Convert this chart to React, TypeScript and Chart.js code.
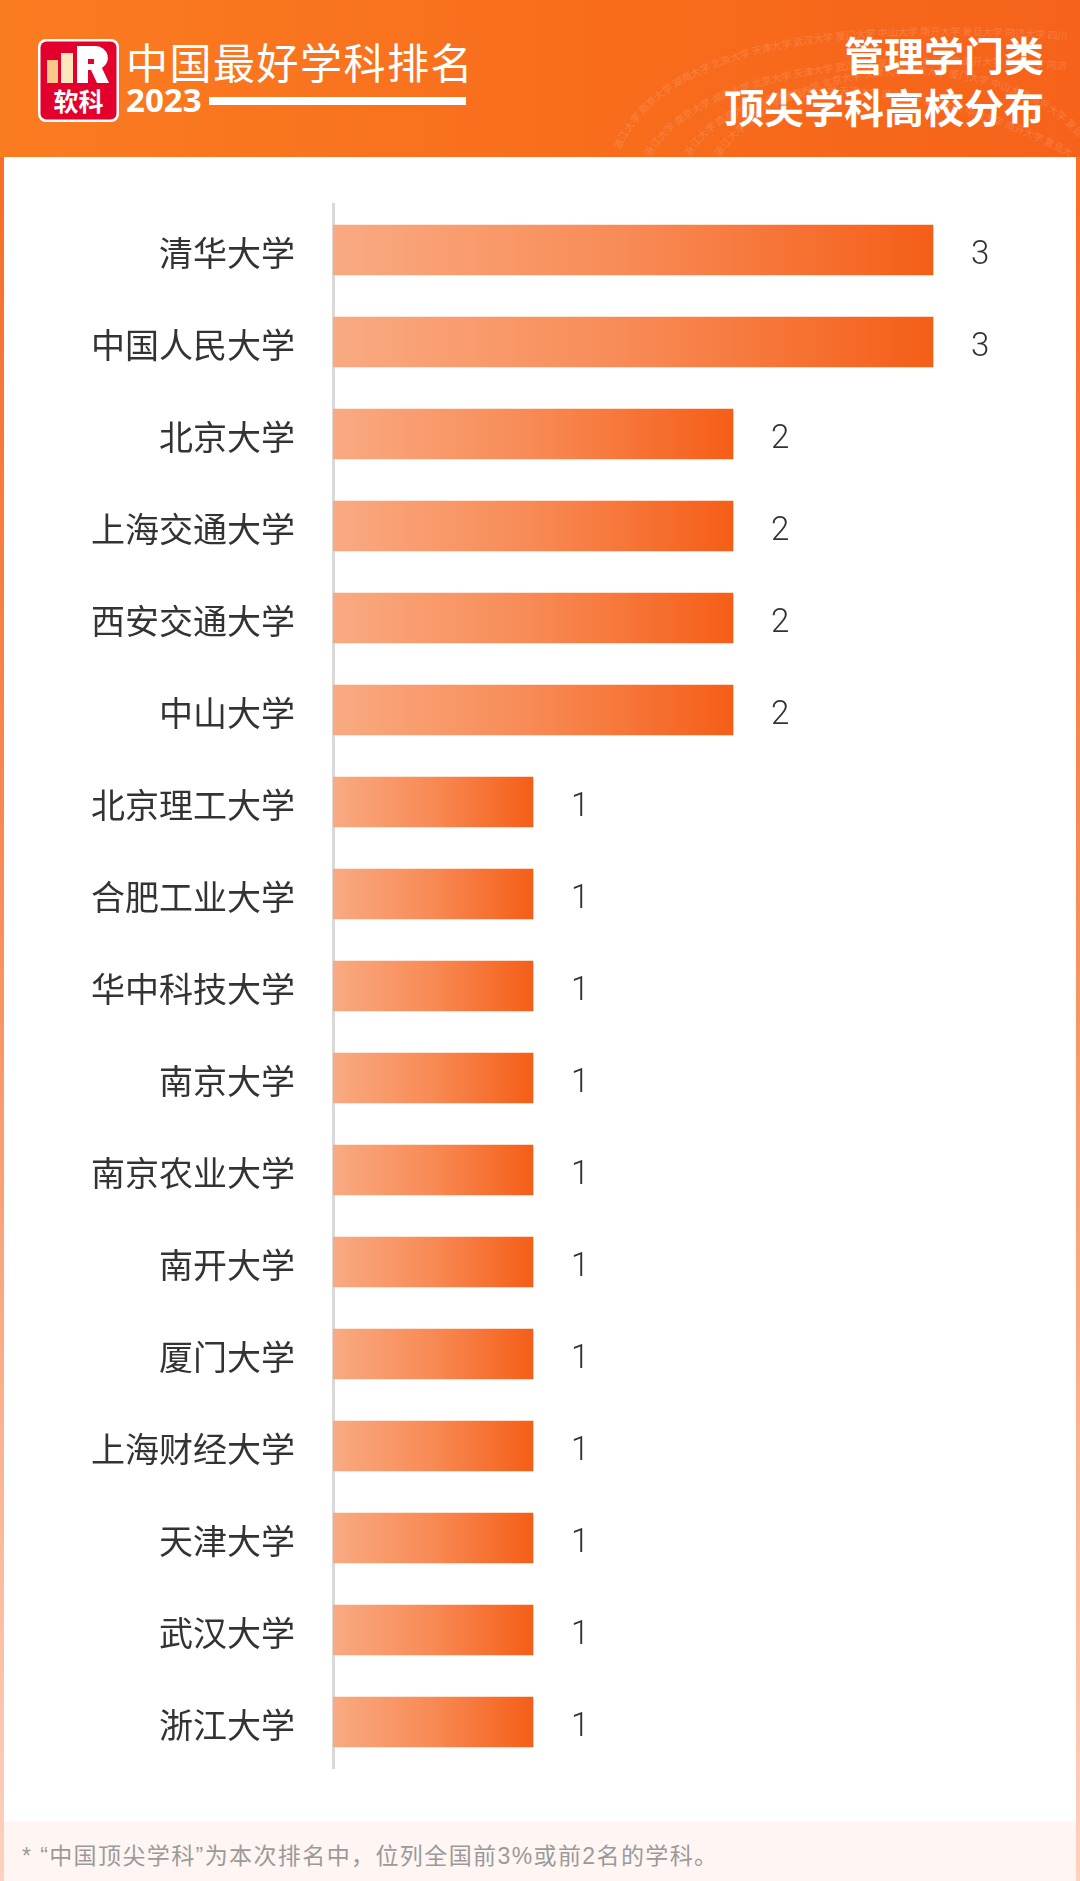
import React, { useEffect, useRef } from "react";
import { Chart, registerables } from "chart.js";

Chart.register(...registerables);

const categories = [
  "清华大学",
  "中国人民大学",
  "北京大学",
  "上海交通大学",
  "西安交通大学",
  "中山大学",
  "北京理工大学",
  "合肥工业大学",
  "华中科技大学",
  "南京大学",
  "南京农业大学",
  "南开大学",
  "厦门大学",
  "上海财经大学",
  "天津大学",
  "武汉大学",
  "浙江大学",
];
const values = [3, 3, 2, 2, 2, 2, 1, 1, 1, 1, 1, 1, 1, 1, 1, 1, 1];

const titleMain = "中国最好学科排名";
const titleYear = "2023";
const subtitle1 = "管理学门类";
const subtitle2 = "顶尖学科高校分布";
const footnote = "* “中国顶尖学科”为本次排名中，位列全国前3%或前2名的学科。";
const patternText =
  "浙江大学 南京大学 湖南大学 北京大学 天津大学 武汉大学 厦门大学 中山大学 南开大学 复旦大学 同济大学 四川大学 ";

const CJK = '"Noto Sans CJK SC", "Noto Sans", sans-serif';

const valueLabelPlugin = {
  id: "valueLabels",
  afterDatasetsDraw(chart: any) {
    const ctx = chart.ctx;
    const meta = chart.getDatasetMeta(0);
    ctx.save();
    ctx.font = '300 33px Roboto, "Noto Sans", sans-serif';
    ctx.fillStyle = "#333333";
    ctx.textAlign = "left";
    ctx.textBaseline = "middle";
    meta.data.forEach((bar: any, i: number) => {
      const v = chart.data.datasets[0].data[i];
      ctx.fillText(String(v), bar.x + 38, bar.y + 6);
    });
    ctx.restore();
  },
};

export default function App() {
  const canvasRef = useRef<HTMLCanvasElement | null>(null);

  useEffect(() => {
    document.body.style.margin = "0";
    const canvas = canvasRef.current;
    if (!canvas) return;
    const chart = new Chart(canvas, {
      type: "bar",
      data: {
        labels: categories,
        datasets: [
          {
            data: values,
            barThickness: 50,
            borderWidth: 0,
            backgroundColor: (c: any) => {
              const ch = c.chart;
              const area = ch.chartArea;
              if (!area || c.type !== "data") return "#f7804a";
              const xs = ch.scales.x;
              const x0 = xs.getPixelForValue(0);
              const x1 = xs.getPixelForValue(c.raw);
              const g = ch.ctx.createLinearGradient(x0, 0, x1, 0);
              g.addColorStop(0, "#f9aa82");
              g.addColorStop(0.5, "#f88a55");
              g.addColorStop(1, "#f55e17");
              return g;
            },
          },
        ],
      },
      options: {
        indexAxis: "y",
        responsive: false,
        animation: false,
        layout: { padding: { top: 47, bottom: 53, left: 0, right: 23 } },
        plugins: {
          legend: { display: false },
          tooltip: { enabled: false },
        },
        scales: {
          x: {
            display: false,
            min: 0,
            max: 3.6,
            ticks: { display: false },
          },
          y: {
            afterFit: (scale: any) => {
              scale.width = 329;
              scale.paddingTop = 0;
              scale.paddingBottom = 0;
            },
            grid: { display: false, drawTicks: false },
            border: { display: true, color: "#d9d9d9", width: 3 },
            ticks: {
              padding: 38,
              labelOffset: 3,
              color: "#333333",
              font: { family: CJK, size: 34 },
            },
          },
        },
      },
      plugins: [valueLabelPlugin],
    } as any);
    return () => chart.destroy();
  }, []);

  return (
    <div
      style={{
        position: "relative",
        width: 1080,
        height: 1881,
        overflow: "hidden",
        background:
          "linear-gradient(180deg, #f7681b 0%, #f98a52 45%, #fdd1be 100%)",
        fontFamily: CJK,
      }}
    >
      {/* header */}
      <div
        style={{
          position: "absolute",
          left: 0,
          top: 0,
          width: 1080,
          height: 157,
          background: "linear-gradient(90deg, #fa7c21 0%, #f86d1c 55%, #f6621a 100%)",
        }}
      />
      <svg
        width={480}
        height={157}
        viewBox="0 0 480 157"
        style={{ position: "absolute", left: 600, top: 0, opacity: 0.15 }}
      >
        <defs>
          <path id="arcA" d="M20 150 C 60 60, 200 20, 470 40" />
          <path id="arcB" d="M50 157 C 90 90, 220 50, 470 70" />
          <path id="arcC" d="M120 157 C 150 110, 230 70, 330 75 C 400 80, 460 110, 480 140" />
          <path id="arcD" d="M90 157 C 110 120, 170 90, 260 95 C 340 100, 420 130, 470 157" />
        </defs>
        {["arcA", "arcB", "arcC", "arcD"].map((id) => (
          <text key={id} fill="#ffffff" style={{ font: `10px ${CJK}` }}>
            <textPath href={`#${id}`}>{patternText + patternText}</textPath>
          </text>
        ))}
      </svg>
      <svg
        width={81}
        height={83}
        viewBox="0 0 81 83"
        style={{ position: "absolute", left: 38, top: 39 }}
      >
        <rect x={0} y={0} width={81} height={83} rx={8} fill="#ffffff" />
        <rect x={2.5} y={2.5} width={76} height={78} rx={6} fill="#e3002d" />
        <rect x={9} y={21} width={11} height={23} fill="#f9c98a" />
        <rect x={23} y={14} width={12} height={30} fill="#fde7bf" />
        <path
          d="M39 7 H58 A13 12 0 0 1 64 29 L71 44 H59 L53 31 H50 V44 H39 Z"
          fill="#ffffff"
        />
        <rect x={50} y={20} width={6} height={5} fill="#e3002d" />
        <text
          x={40.5}
          y={72}
          textAnchor="middle"
          fill="#ffffff"
          style={{ font: `700 25px ${CJK}` }}
        >
          软科
        </text>
      </svg>
      <div
        style={{
          position: "absolute",
          left: 126,
          top: 33,
          fontSize: 42,
          lineHeight: "56px",
          fontWeight: 400,
          letterSpacing: 1.5,
          color: "#ffffff",
          whiteSpace: "nowrap",
        }}
      >
        {titleMain}
      </div>
      <div
        style={{
          position: "absolute",
          left: 126,
          top: 80,
          fontSize: 33,
          lineHeight: "40px",
          fontWeight: 700,
          color: "#ffffff",
          fontFamily: '"Noto Sans", sans-serif',
        }}
      >
        {titleYear}
      </div>
      <div
        style={{
          position: "absolute",
          left: 209,
          top: 97,
          width: 257,
          height: 8,
          background: "#ffffff",
        }}
      />
      <div
        style={{
          position: "absolute",
          right: 36,
          top: 28,
          textAlign: "right",
          color: "#ffffff",
          fontWeight: 700,
          fontSize: 40,
          lineHeight: "52px",
          whiteSpace: "nowrap",
        }}
      >
        <div>{subtitle1}</div>
        <div>{subtitle2}</div>
      </div>

      {/* white panel */}
      <div
        style={{
          position: "absolute",
          left: 4,
          top: 157,
          width: 1072,
          height: 1664,
          background: "#ffffff",
        }}
      >
        <canvas
          ref={canvasRef}
          width={1072}
          height={1664}
          style={{ display: "block", width: 1072, height: 1664 }}
        />
      </div>

      {/* footer */}
      <div
        style={{
          position: "absolute",
          left: 4,
          top: 1821,
          width: 1072,
          height: 60,
          background: "#fff5f2",
        }}
      >
        <div
          style={{
            position: "absolute",
            left: 18,
            top: 0,
            lineHeight: "70px",
            fontSize: 23,
            letterSpacing: 1.4,
            color: "#9a9a9a",
            whiteSpace: "nowrap",
            fontFamily: '"Liberation Sans", "Noto Sans CJK SC", sans-serif',
          }}
        >
          {footnote}
        </div>
      </div>
    </div>
  );
}
